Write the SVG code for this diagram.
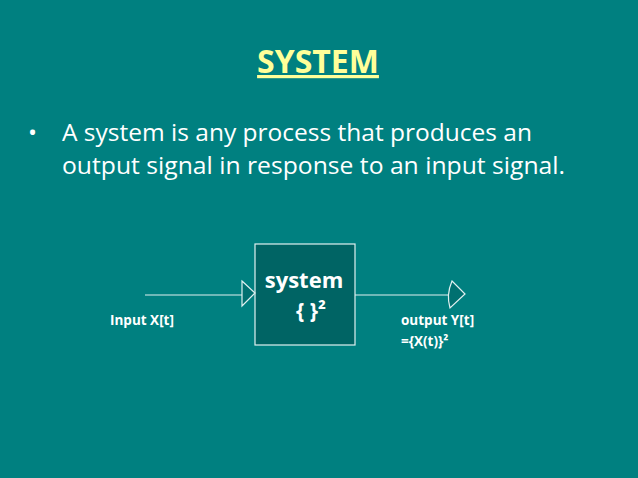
<svg xmlns="http://www.w3.org/2000/svg" width="638" height="478" viewBox="0 0 638 478">
<style>
text{font-family:"Open Sans","Liberation Sans",sans-serif;fill:#fff}
.lbl{font-size:13.5px;font-weight:bold}
.ln{stroke:#e0f0f0;stroke-width:1.2;fill:none}
.ah{stroke:#e0f0f0;stroke-width:1.2;fill:#007070}
</style>
<rect width="638" height="478" fill="#008080"/>
<text x="318" y="73" text-anchor="middle" font-size="32" font-weight="bold" style="fill:#ffff99" text-decoration="underline">SYSTEM</text>
<text x="28" y="141" font-size="24">•</text>
<text x="62" y="141" font-size="24" textLength="470" lengthAdjust="spacingAndGlyphs">A system is any process that produces an</text>
<text x="62" y="174" font-size="24" textLength="503" lengthAdjust="spacingAndGlyphs">output signal in response to an input signal.</text>
<g id="system">
<rect x="255" y="244" width="100" height="101" fill="#006464" stroke="#e0f0f0" stroke-width="1.2"/>
<text x="304" y="288" text-anchor="middle" font-size="22" font-weight="bold">system</text>
<text x="311" y="318" text-anchor="middle" font-size="21" font-weight="bold">{ }²</text>
</g>
<g id="input"><text class="lbl" x="110" y="325">Input X[t]</text></g>
<g id="output"><text class="lbl" x="401" y="325">output Y[t]</text><text class="lbl" x="401" y="346">={X(t)}²</text></g>
<g id="connectors">
<line class="ln" x1="145" y1="295" x2="242" y2="295"/>
<path class="ah" d="M242 281 L255 293 L242 306 Z"/>
<line class="ln" x1="355" y1="295" x2="450" y2="295"/>
<path class="ah" d="M452 281 L465 294 L450 308 Q446 295 452 281 Z"/>
</g>
</svg>
